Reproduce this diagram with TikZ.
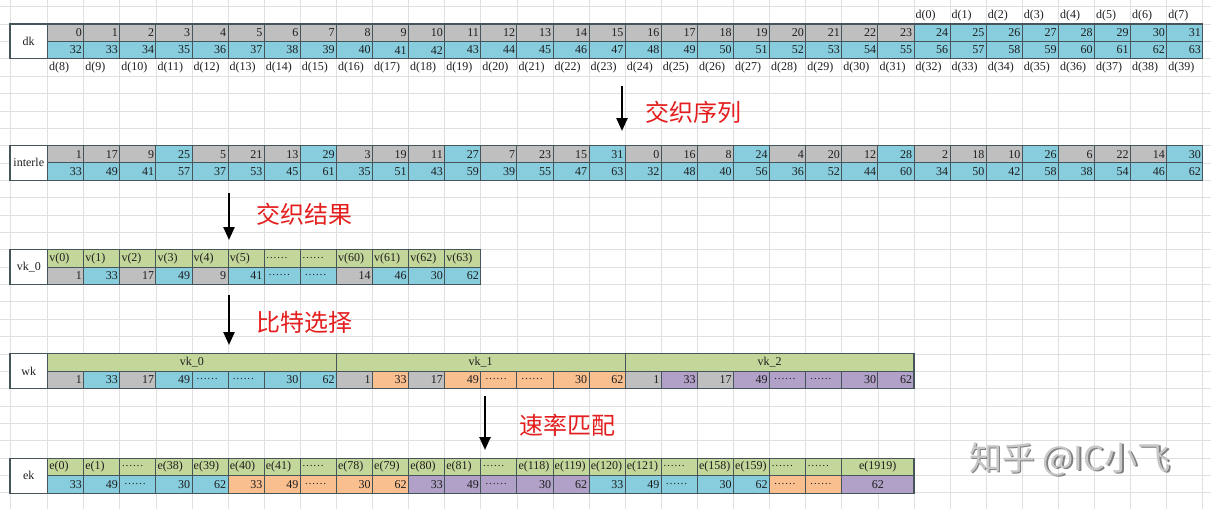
\documentclass[tikz,border=0pt]{standalone}
\usepackage{fontspec}
\setmainfont{Liberation Serif}
\newfontfamily\cjk{Noto Sans CJK SC}
\usetikzlibrary{arrows.meta}
\definecolor{gcell}{RGB}{191,191,191}
\definecolor{bcell}{RGB}{135,205,222}
\definecolor{grcell}{RGB}{196,215,155}
\definecolor{ocell}{RGB}{250,191,143}
\definecolor{pcell}{RGB}{177,160,199}
\definecolor{cborder}{RGB}{70,85,90}
\definecolor{gridc}{RGB}{224,224,224}
\definecolor{ctext}{RGB}{30,30,30}
\definecolor{cred}{RGB}{228,30,30}
\newcommand\sixdots{\makebox[30pt][l]{\raisebox{0.3ex}{\fontsize{11}{11}\selectfont ……}}}
\tikzset{
  gridline/.style={draw=gridc, line width=0.6pt},
  cell/.style={draw=cborder, line width=0.8pt, minimum width=36.1pt, minimum height=17.36pt,
    text width=32.5pt, inner sep=1.5pt, outer sep=0pt, anchor=north west,
    font=\fontsize{12}{12}\selectfont, text=ctext},
  rcell/.style={cell, align=right},
  lcell/.style={cell, align=left},
  ccell/.style={cell, align=center},
  labelcell/.style={draw=cborder, line width=0.8pt, fill=white, minimum width=37.5pt,
    minimum height=34.72pt, inner sep=1pt, outer sep=0pt, anchor=north west,
    font=\fontsize{12}{12}\selectfont, text=ctext},
  dlabel/.style={minimum height=17.36pt, text width=33pt, inner sep=1.5pt, anchor=north west,
    align=left, font=\fontsize{12}{12}\selectfont, text=ctext},
  bigarrow/.style={line width=2.4pt, draw=black, -{Triangle[length=13pt,width=11pt]}},
  cnlabel/.style={font=\cjk\fontsize{24}{24}\selectfont, text=cred, inner sep=0pt},
  outline/.style={draw=cborder, line width=1.1pt},
  wmark/.style={font=\cjk\fontsize{33}{33}\selectfont, inner sep=0pt}
}
\begin{document}
\begin{tikzpicture}[x=1pt,y=-1pt]
\useasboundingbox (0,0) rectangle (1211,509);
% background grid
\foreach \k in {-1,...,27} \draw[gridline] (0,{24+\k*17.36}) -- (1211,{24+\k*17.36});
\foreach \i in {0,...,32} \draw[gridline] ({47.5+\i*36.1},0) -- ({47.5+\i*36.1},509);
\draw[gridline] (10,0) -- (10,509);

% ---------------- dk ----------------
\node[labelcell] (dk) at (10,24) {dk};
\foreach \i in {0,...,31}{
  \ifnum\i<24 \def\cc{gcell}\else\def\cc{bcell}\fi
  \pgfmathtruncatemacro\vb{\i+32}
  \pgfmathtruncatemacro\nb{\i+8}
  \node[rcell,fill=\cc] (dka\i) at ({47.5+\i*36.1},24) {\i};
  \node[rcell,fill=bcell] (dkb\i) at ({47.5+\i*36.1},41.36) {\vb};
  \node[dlabel] (dlb\i) at ({47.5+\i*36.1},58.72) {d(\nb)};
}
\foreach \i in {24,...,31}{
  \pgfmathtruncatemacro\na{\i-24}
  \node[dlabel] (dla\i) at ({47.5+\i*36.1},6.64) {d(\na)};
}
\draw[outline] (10,24) rectangle ({47.5+32*36.1},58.72);

% arrow 1
\coordinate (a1s) at (622,86);
\coordinate (a1e) at (622,131);
\draw[bigarrow] (a1s) -- (a1e);
\node[cnlabel] (t1) at (693,112) {交织序列};

% ---------------- interle ----------------
\node[labelcell] (il) at (10,145.52) {interle};
\foreach \i/\t/\b in {0/1/33,1/17/49,2/9/41,3/25/57,4/5/37,5/21/53,6/13/45,7/29/61,
  8/3/35,9/19/51,10/11/43,11/27/59,12/7/39,13/23/55,14/15/47,15/31/63,
  16/0/32,17/16/48,18/8/40,19/24/56,20/4/36,21/20/52,22/12/44,23/28/60,
  24/2/34,25/18/50,26/10/42,27/26/58,28/6/38,29/22/54,30/14/46,31/30/62}{
  \ifnum\t>23 \def\cc{bcell}\else\def\cc{gcell}\fi
  \node[rcell,fill=\cc] (ila\i) at ({47.5+\i*36.1},145.52) {\t};
  \node[rcell,fill=bcell] (ilb\i) at ({47.5+\i*36.1},162.88) {\b};
}
\draw[outline] (10,145.52) rectangle ({47.5+32*36.1},180.24);

% arrow 2
\coordinate (a2s) at (229,193);
\coordinate (a2e) at (229,240);
\draw[bigarrow] (a2s) -- (a2e);
\node[cnlabel] (t2) at (304,214) {交织结果};

% ---------------- vk_0 ----------------
\node[labelcell] (vk) at (10,249.68) {vk\_0};
\foreach \i/\t in {0/v(0),1/v(1),2/v(2),3/v(3),4/v(4),5/v(5),6/\sixdots,7/\sixdots,
  8/v(60),9/v(61),10/v(62),11/v(63)}{
  \node[lcell,fill=grcell] (vka\i) at ({47.5+\i*36.1},249.68) {\t};
}
\foreach \i/\v/\c in {0/1/gcell,1/33/bcell,2/17/gcell,3/49/bcell,4/9/gcell,5/41/bcell,
  6/\sixdots/bcell,7/\sixdots/bcell,8/14/gcell,9/46/bcell,10/30/bcell,11/62/bcell}{
  \node[rcell,fill=\c] (vkb\i) at ({47.5+\i*36.1},267.04) {\v};
}
\draw[outline] (10,249.68) rectangle ({47.5+12*36.1},284.4);

% arrow 3
\coordinate (a3s) at (229,295);
\coordinate (a3e) at (229,345);
\draw[bigarrow] (a3s) -- (a3e);
\node[cnlabel] (t3) at (304,322) {比特选择};

% ---------------- wk ----------------
\node[labelcell] (wk) at (10,353.84) {wk};
\foreach \b/\X in {0/bcell,1/ocell,2/pcell}{
  \node[ccell,fill=grcell,minimum width=288.8pt,text width=285pt] (wkh\b) at ({47.5+\b*288.8},353.84) {vk\_\b};
  \foreach \j/\v/\c in {0/1/gcell,1/33/\X,2/17/gcell,3/49/\X,4/\sixdots/\X,5/\sixdots/\X,6/30/\X,7/62/\X}{
    \node[rcell,fill=\c] (wk\b c\j) at ({47.5+(\b*8+\j)*36.1},371.2) {\v};
  }
}
\draw[outline] (10,353.84) rectangle ({47.5+24*36.1},388.56);

% arrow 4
\coordinate (a4s) at (485,396);
\coordinate (a4e) at (485,450);
\draw[bigarrow] (a4s) -- (a4e);
\node[cnlabel] (t4) at (567,425) {速率匹配};

% ---------------- ek ----------------
\node[labelcell] (ek) at (10,458.4) {ek};
\foreach \i/\t in {0/e(0),1/e(1),2/\sixdots,3/e(38),4/e(39),5/e(40),6/e(41),7/\sixdots,
  8/e(78),9/e(79),10/e(80),11/e(81),12/\sixdots,13/e(118),14/e(119),15/e(120),16/e(121),
  17/\sixdots,18/e(158),19/e(159),20/\sixdots,21/\sixdots}{
  \node[lcell,fill=grcell] (eka\i) at ({47.5+\i*36.1},458.4) {\t};
}
\node[ccell,fill=grcell,minimum width=72.2pt,text width=68pt] (eka22) at ({47.5+22*36.1},458.4) {e(1919)};
\foreach \i/\v/\c in {0/33/bcell,1/49/bcell,2/\sixdots/bcell,3/30/bcell,4/62/bcell,
  5/33/ocell,6/49/ocell,7/\sixdots/ocell,8/30/ocell,9/62/ocell,
  10/33/pcell,11/49/pcell,12/\sixdots/pcell,13/30/pcell,14/62/pcell,
  15/33/bcell,16/49/bcell,17/\sixdots/bcell,18/30/bcell,19/62/bcell,
  20/\sixdots/ocell,21/\sixdots/ocell}{
  \node[rcell,fill=\c] (ekb\i) at ({47.5+\i*36.1},475.76) {\v};
}
\node[ccell,fill=pcell,minimum width=72.2pt,text width=68pt] (ekb22) at ({47.5+22*36.1},475.76) {62};
\draw[outline] (10,458.4) rectangle ({47.5+24*36.1},493.12);

% watermark
\node[wmark, text=black!50] (wms) at (1071.5,460.5) {知乎 @IC小飞};
\node[wmark, text=black!22] (wm) at (1070,459) {知乎 @IC小飞};
\end{tikzpicture}
\end{document}
